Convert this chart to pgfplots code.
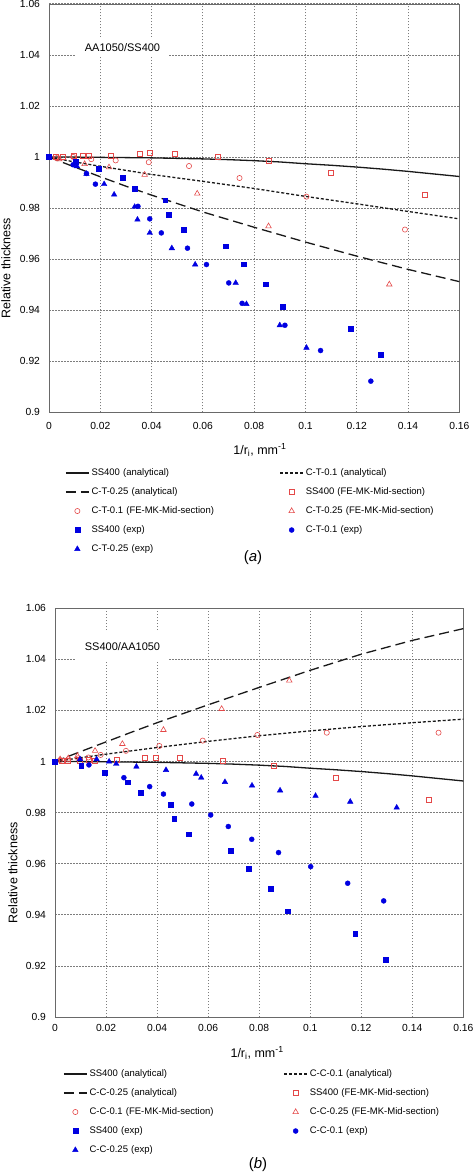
\documentclass[border=0pt]{standalone}
\usepackage{fontspec}
\setmainfont{Liberation Sans}
\usepackage{pgfplots}
\pgfplotsset{compat=1.18}
\usepackage{pgfplotstable}

\definecolor{femk}{RGB}{228,72,72}
\definecolor{expblue}{RGB}{0,0,225}
\definecolor{curve}{RGB}{25,25,25}
\definecolor{gridgray}{RGB}{125,125,125}
\definecolor{framegray}{RGB}{105,105,105}

% ---------- analytical curves ----------
\pgfplotstableread{
x y
0 1
0.01 1.0000
0.02 0.9999
0.03 0.9998
0.04 0.9997
0.05 0.9995
0.06 0.9993
0.07 0.9990
0.08 0.9986
0.09 0.9981
0.10 0.9974
0.11 0.9968
0.12 0.9961
0.13 0.9953
0.14 0.9944
0.15 0.9934
0.16 0.9924
}\ssAn
\pgfplotstableread{
x y
0 1
0.01 0.9981
0.02 0.9964
0.03 0.9948
0.04 0.9932
0.06 0.9905
0.08 0.9877
0.10 0.9846
0.12 0.9817
0.14 0.9787
0.16 0.9758
}\ctOneAn
\pgfplotstableread{
x y
0 1
0.01 0.9961
0.02 0.9923
0.03 0.9886
0.04 0.9851
0.06 0.9785
0.08 0.9725
0.10 0.9667
0.12 0.9612
0.14 0.9560
0.16 0.9512
}\ctTwoAn
\pgfplotstableread{
x y
0 1
0.01 1.0015
0.02 1.0029
0.03 1.0042
0.04 1.0055
0.06 1.0079
0.08 1.0101
0.10 1.0120
0.12 1.0137
0.14 1.0152
0.16 1.0166
}\ccOneAn
\pgfplotstableread{
x y
0 1
0.01 1.0039
0.02 1.0077
0.03 1.0115
0.04 1.0152
0.06 1.0222
0.08 1.0290
0.10 1.0357
0.12 1.0420
0.14 1.0474
0.16 1.0520
}\ccTwoAn

% ---------- FE-MK mid-section ----------
\pgfplotstableread{
x y
0.0026 1.0002
0.0052 1.0003
0.0096 1.0004
0.0133 1.0005
0.0156 1.0004
0.0241 1.0007
0.0353 1.0013
0.0395 1.0016
0.0490 1.0013
0.0658 1.0003
0.0856 0.9985
0.1100 0.9937
0.1464 0.9852
}\ssFE
\pgfplotstableread{
x y
0.0030 0.9996
0.0094 1.0001
0.0165 0.9992
0.0260 0.9987
0.0389 0.9980
0.0546 0.9965
0.0743 0.9918
0.1004 0.9845
0.1388 0.9716
}\ctOneFE
\pgfplotstableread{
x y
0.0040 0.9992
0.0139 0.9973
0.0234 0.9960
0.0373 0.9931
0.0578 0.9857
0.0856 0.9729
0.1327 0.9501
}\ctTwoFE
\pgfplotstableread{
x y
0.0020 1.0006
0.0052 1.0009
0.0091 1.0013
0.0131 1.0016
0.0179 1.0026
0.0278 1.0042
0.0409 1.0061
0.0579 1.0082
0.0793 1.0104
0.1065 1.0113
0.1503 1.0113
}\ccOneFE
\pgfplotstableread{
x y
0.0020 1.0009
0.0052 1.0013
0.0088 1.0022
0.0157 1.0042
0.0264 1.0069
0.0425 1.0124
0.0653 1.0206
0.0918 1.0317
}\ccTwoFE

% ---------- experiments ----------
\pgfplotstableread{
x y
0 1.0000
0.0103 0.9983
0.0195 0.9955
0.0286 0.9919
0.0335 0.9877
0.0453 0.9831
0.0467 0.9775
0.0524 0.9716
0.0689 0.9651
0.0758 0.9580
0.0844 0.9502
0.0912 0.9415
0.1176 0.9326
0.1295 0.9225
}\ssExp
\pgfplotstableread{
x y
0.0094 0.9970
0.0146 0.9936
0.0181 0.9894
0.0347 0.9807
0.0393 0.9758
0.0438 0.9703
0.0540 0.9643
0.0614 0.9579
0.0701 0.9507
0.0753 0.9427
0.0920 0.9341
0.1059 0.9242
0.1255 0.9122
}\ctOneExp
\pgfplotstableread{
x y
0.0109 0.9964
0.0146 0.9934
0.0215 0.9894
0.0254 0.9853
0.0334 0.9805
0.0345 0.9755
0.0393 0.9703
0.0479 0.9643
0.0570 0.9579
0.0728 0.9507
0.0770 0.9424
0.0900 0.9341
0.1004 0.9253
}\ctTwoExp
\pgfplotstableread{
x y
0.0133 0.9987
0.0270 0.9937
0.0371 0.9902
0.0425 0.9873
0.0536 0.9834
0.0610 0.9791
0.0679 0.9746
0.0771 0.9696
0.0876 0.9644
0.1002 0.9589
0.1147 0.9524
0.1288 0.9455
}\ccOneExp
\pgfplotstableread{
x y
0.0098 1.0009
0.0163 1.0009
0.0212 1.0000
0.0240 0.9991
0.0319 0.9980
0.0435 0.9967
0.0553 0.9952
0.0573 0.9937
0.0666 0.9920
0.0772 0.9906
0.0882 0.9887
0.1021 0.9866
0.1157 0.9843
0.1339 0.9820
}\ccTwoExp

\pgfplotsset{
  thickness panel/.style={
    scale only axis,
    anchor=south west,
    xmin=0, xmax=0.16, ymin=0.9, ymax=1.06,
    xtick={0,0.02,0.04,0.06,0.08,0.1,0.12,0.14,0.16},
    ytick={0.9,0.92,0.94,0.96,0.98,1,1.02,1.04,1.06},
    /pgf/number format/assume math mode=true,
    xticklabel style={/pgf/number format/fixed, /pgf/number format/precision=2,
      font=\fontsize{10.3}{12}\selectfont},
    yticklabel style={/pgf/number format/fixed, /pgf/number format/precision=2,
      font=\fontsize{10.3}{12}\selectfont, xshift=-5.5pt},
    major tick length=0pt,
    grid=major,
    grid style={gridgray, line width=1pt, dash pattern=on 1.5pt off 1.5pt},
    axis line style={framegray, line width=0.9pt},
    clip=false,
    ylabel={Relative thickness},
    xlabel={1/r\textsubscript{i}, mm\textsuperscript{-1}},
    label style={font=\fontsize{12.5}{14}\selectfont},
    legend columns=2,
    legend cell align=left,
    legend style={draw=none, fill=none, inner sep=0pt, anchor=north west,
      font=\fontsize{9.5}{11}\selectfont,
      nodes={inner sep=0pt, text width=165pt, align=left, minimum height=19pt},
      /tikz/every odd column/.style={column sep=2pt}},
    legend image code/.code={\draw[mark repeat=2,mark phase=2,##1]
      plot coordinates {(0pt,0pt) (11.5pt,0pt) (23pt,0pt)};},
  },
  analytic/.style={curve, line width=1.3pt, mark=none},
  shortdash/.style={dash pattern=on 3pt off 2pt},
  longdash/.style={dash pattern=on 10pt off 5pt},
  fe/.style={only marks, femk, mark options={line width=0.6pt, solid}},
  ex/.style={only marks, expblue, mark options={solid}},
}

\begin{document}
\begin{tikzpicture}
\path[use as bounding box] (0,0) rectangle (474pt,1174pt);

% ---------------- (a) AA1050/SS400 ----------------
\begin{axis}[thickness panel,
  at={(49pt,761.7pt)}, width=410.3pt, height=408.3pt,
  xticklabel style={yshift=-6.4pt},
  ylabel style={at={(axis description cs:-0.105,0.353)}, anchor=center},
  xlabel style={at={(axis description cs:0.514,-0.0923)}, anchor=center},
  legend style={at={(axis description cs:0.039,-0.125)},
    /tikz/every even column/.style={column sep=23pt}},
]
\addplot[analytic] table {\ssAn};
\addlegendentry{SS400 (analytical)}
\addplot[analytic, shortdash] table {\ctOneAn};
\addlegendentry{C-T-0.1 (analytical)}
\addplot[analytic, longdash] table {\ctTwoAn};
\addlegendentry{C-T-0.25 (analytical)}
\addplot[fe, mark=square, mark size=2.5pt] table {\ssFE};
\addlegendentry{SS400 (FE-MK-Mid-section)}
\addplot[fe, mark=o, mark size=2.6pt] table {\ctOneFE};
\addlegendentry{C-T-0.1 (FE-MK-Mid-section)}
\addplot[fe, mark=triangle, mark size=3.2pt] table {\ctTwoFE};
\addlegendentry{C-T-0.25 (FE-MK-Mid-section)}
\addplot[ex, mark=square*, mark size=2.4pt] table {\ssExp};
\addlegendentry{SS400 (exp)}
\addplot[ex, mark=*, mark size=2.5pt] table {\ctOneExp};
\addlegendentry{C-T-0.1 (exp)}
\addplot[ex, mark=triangle*, mark size=3.2pt] table {\ctTwoExp};
\addlegendentry{C-T-0.25 (exp)}
\node[fill=white, inner xsep=8.5pt, inner ysep=0pt, minimum height=20pt,
  font=\fontsize{11}{13}\selectfont] at (axis cs:0.02866,1.0431) {AA1050/SS400};
\end{axis}
\node[font=\fontsize{15}{17}\selectfont] at (253pt,616pt) {(\textit{a})};

% ---------------- (b) SS400/AA1050 ----------------
\begin{axis}[thickness panel,
  at={(55pt,156.8pt)}, width=408.3pt, height=409pt,
  xticklabel style={yshift=-3.8pt},
  ylabel style={at={(axis description cs:-0.103,0.353)}, anchor=center},
  xlabel style={at={(axis description cs:0.495,-0.0875)}, anchor=center},
  legend style={at={(axis description cs:0.0196,-0.1152)},
    /tikz/every even column/.style={column sep=29pt}},
]
\addplot[analytic] table {\ssAn};
\addlegendentry{SS400 (analytical)}
\addplot[analytic, shortdash] table {\ccOneAn};
\addlegendentry{C-C-0.1 (analytical)}
\addplot[analytic, longdash] table {\ccTwoAn};
\addlegendentry{C-C-0.25 (analytical)}
\addplot[fe, mark=square, mark size=2.5pt] table {\ssFE};
\addlegendentry{SS400 (FE-MK-Mid-section)}
\addplot[fe, mark=o, mark size=2.6pt] table {\ccOneFE};
\addlegendentry{C-C-0.1 (FE-MK-Mid-section)}
\addplot[fe, mark=triangle, mark size=3.2pt] table {\ccTwoFE};
\addlegendentry{C-C-0.25 (FE-MK-Mid-section)}
\addplot[ex, mark=square*, mark size=2.4pt] table {\ssExp};
\addlegendentry{SS400 (exp)}
\addplot[ex, mark=*, mark size=2.5pt] table {\ccOneExp};
\addlegendentry{C-C-0.1 (exp)}
\addplot[ex, mark=triangle*, mark size=3.2pt] table {\ccTwoExp};
\addlegendentry{C-C-0.25 (exp)}
\node[fill=white, inner xsep=8.5pt, inner ysep=0pt, minimum height=30pt,
  font=\fontsize{11}{13}\selectfont] at (axis cs:0.02645,1.0449) {SS400/AA1050};
\end{axis}
\node[font=\fontsize{15}{17}\selectfont] at (258pt,9pt) {(\textit{b})};
\end{tikzpicture}
\end{document}
